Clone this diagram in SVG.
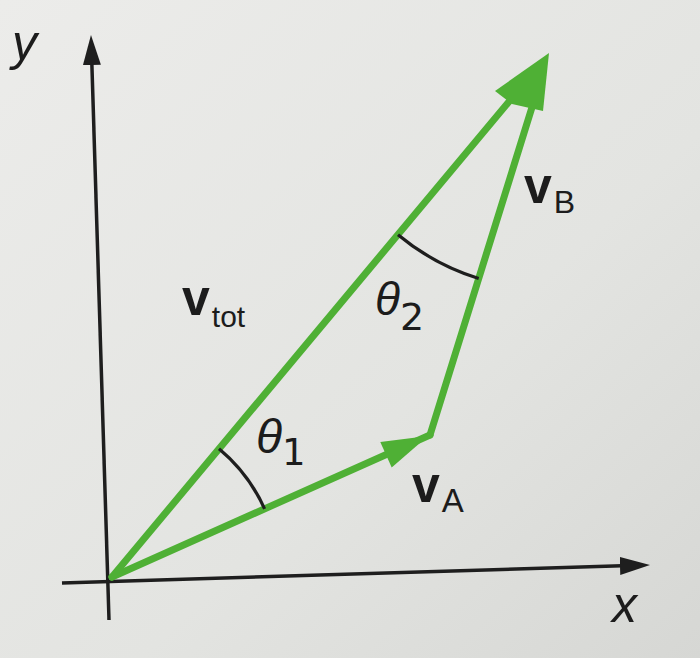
<svg xmlns="http://www.w3.org/2000/svg" width="700" height="658" viewBox="0 0 700 658">
  <defs>
    <linearGradient id="bg" x1="0" y1="0" x2="1" y2="1">
      <stop offset="0" stop-color="#ececea"/>
      <stop offset="0.6" stop-color="#e3e4e1"/>
      <stop offset="1" stop-color="#d6d7d4"/>
    </linearGradient>
    <marker id="axisHead" viewBox="0 0 30 18" refX="10" refY="9" markerWidth="30" markerHeight="18" markerUnits="userSpaceOnUse" orient="auto">
      <path d="M0,0 L30,9 L0,18 z" fill="#1e1e1e"/>
    </marker>
    <marker id="greenHead" viewBox="0 0 46 28" refX="40" refY="14" markerWidth="46" markerHeight="28" markerUnits="userSpaceOnUse" orient="auto">
      <path d="M0,0 L46,14 L0,28 z" fill="#4fb035"/>
    </marker>
  </defs>
  <style>
    .axis { stroke: #1e1e1e; stroke-width: 3.5; fill: none; }
    .vec { stroke: #4fb035; stroke-width: 7; fill: none; stroke-linecap: round; }
    .arc { stroke: #1e1e1e; stroke-width: 3.2; fill: none; }
    .lbl { font-family: "Liberation Sans", Arial, sans-serif; fill: #1c1c1c; }
    .vb { font-weight: bold; font-size: 50px; }
    .sub { font-weight: normal; }
    .it { font-style: italic; }
    .num { font-family: "DejaVu Sans", sans-serif; font-style: normal; }
  </style>
  <rect x="0" y="0" width="700" height="658" fill="url(#bg)"/>

  <g id="axes">
    <line class="axis" x1="109" y1="620" x2="91.6" y2="55" marker-end="url(#axisHead)"/>
    <line class="axis" x1="62" y1="583" x2="630" y2="565.6" marker-end="url(#axisHead)"/>
  </g>

  <g id="connectors">
    <line id="vA" class="vec" x1="112" y1="577" x2="430" y2="435"/>
    <path d="M0,0 L46,14 L0,28 z" fill="#4fb035" transform="translate(428,436) rotate(-24.07) translate(-46,-14)"/>
    <line id="vtot" class="vec" x1="112" y1="577" x2="522" y2="86"/>
    <line id="vB" class="vec" x1="430" y1="435" x2="538" y2="88"/>
    <polygon points="549,53 495,91 512,104 543,111" fill="#4fb035"/>
  </g>

  <g id="angles">
    <path id="theta1-arc" class="arc" d="M219,448.7 A167,167 0 0 1 264.6,508.9"/>
    <path id="theta2-arc" class="arc" d="M398,234.7 A234,234 0 0 0 478.7,278.5"/>
  </g>

  <g id="label-y"><text class="lbl it" x="12" y="60" font-size="50">y</text></g>
  <g id="label-x"><text class="lbl it" x="612" y="622" font-size="50">x</text></g>
  <g id="label-vtot"><text class="lbl vb" x="182" y="315">v<tspan class="sub" font-size="30" dx="2" dy="12">tot</tspan></text></g>
  <g id="label-vA"><text class="lbl vb" x="412" y="502">v<tspan class="sub" font-size="33" dx="2" dy="10">A</tspan></text></g>
  <g id="label-vB"><text class="lbl vb" x="524" y="203">v<tspan class="sub" font-size="32" dx="2" dy="10">B</tspan></text></g>
  <g id="label-theta1"><text class="lbl it" x="256" y="453" font-size="48">θ<tspan class="num" font-size="37" dy="12">1</tspan></text></g>
  <g id="label-theta2"><text class="lbl it" x="375" y="315" font-size="46">θ<tspan class="num" font-size="38" dy="15">2</tspan></text></g>
</svg>
